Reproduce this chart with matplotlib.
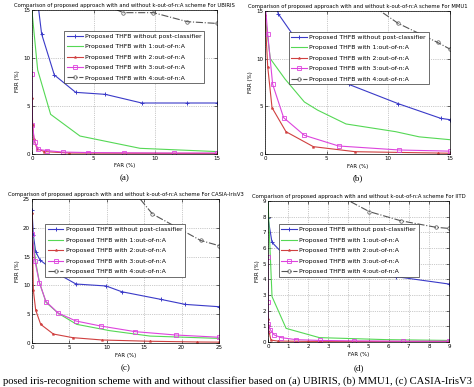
import numpy as np
import matplotlib.pyplot as plt

# legend labels shared by all four panels
labels = ["Proposed THFB without post-classifier",
          "Proposed THFB with 1:out-of-n:A",
          "Proposed THFB with 2:out-of-n:A",
          "Proposed THFB with 3:out-of-n:A",
          "Proposed THFB with 4:out-of-n:A"]

# (a) UBIRIS
a_blue_x = [0.35, 0.78, 1.81, 3.54, 5.95, 8.9, 12.6, 15]
a_blue_y = [17.0, 12.45, 8.18, 6.37, 6.16, 5.26, 5.26, 5.26]
a_green_x = [0.0, 0.46, 1.51, 3.89, 8.76, 15]
a_green_y = [14.8, 8.7, 4.08, 1.82, 0.54, 0.2]
a_red_x = [0.0, 0.05, 0.15, 0.4, 1.0, 3.0, 15]
a_red_y = [5.8, 3.0, 1.5, 0.5, 0.2, 0.05, 0.0]
a_mag_x = [0.0, 0.03, 0.22, 0.51, 1.2, 2.49, 4.5, 7.46, 11.5, 15]
a_mag_y = [8.28, 2.97, 1.23, 0.43, 0.3, 0.15, 0.1, 0.07, 0.05, 0.05]
a_blk_x = [5.0, 7.4, 9.84, 12.6, 15]
a_blk_y = [16.0, 14.67, 14.67, 13.73, 13.55]

# (b) MMU1
b_blue_x = [0.8, 1.08, 3.5, 6.78, 10.8, 14.25, 15]
b_blue_y = [16.0, 14.7, 10.2, 7.31, 5.28, 3.74, 3.6]
b_green_x = [0.0, 0.43, 1.62, 3.19, 4.27, 6.57, 10.6, 12.5, 15]
b_green_y = [14.6, 10.0, 7.87, 5.46, 4.6, 3.15, 2.34, 1.8, 1.5]
b_red_x = [0.0, 0.22, 0.57, 1.7, 3.92, 7.32, 14.0, 15]
b_red_y = [14.6, 9.16, 4.86, 2.34, 0.77, 0.24, 0.1, 0.08]
b_mag_x = [0.0, 0.22, 0.62, 1.51, 3.19, 5.97, 10.9, 15]
b_mag_y = [16.0, 12.6, 7.31, 3.81, 1.96, 0.84, 0.42, 0.3]
b_blk_x = [8.0, 10.8, 14.0, 15]
b_blk_y = [16.2, 13.7, 11.7, 11.0]

# (c) CASIA-IrisV3
c_blue_x = [0.0, 0.18, 0.49, 1.07, 3.74, 5.88, 9.9, 12.0, 17.2, 20.5, 25]
c_blue_y = [23.1, 18.75, 15.85, 14.4, 11.8, 10.24, 9.9, 8.9, 7.58, 6.7, 6.3]
c_green_x = [0.0, 0.49, 0.98, 1.87, 3.52, 5.97, 10.4, 15.8, 25]
c_green_y = [19.5, 14.1, 10.6, 7.06, 5.15, 3.24, 2.14, 1.2, 0.8]
c_red_x = [0.0, 0.18, 0.49, 1.16, 2.85, 5.44, 9.4, 15.8, 22.0, 25]
c_red_y = [22.5, 9.2, 5.73, 3.24, 1.56, 0.93, 0.52, 0.3, 0.18, 0.15]
c_mag_x = [0.0, 0.4, 1.0, 1.87, 3.5, 5.88, 9.18, 13.8, 19.2, 25]
c_mag_y = [19.0, 14.2, 10.4, 7.2, 5.2, 3.82, 2.95, 1.97, 1.39, 1.0]
c_blk_x = [13.5, 16.1, 22.55, 25]
c_blk_y = [26.5, 22.4, 17.8, 16.9]

# (d) IITD
d_blue_x = [0.0, 0.0, 0.2, 0.65, 1.5, 3.2, 6.37, 9]
d_blue_y = [9.5, 7.9, 6.36, 5.76, 5.3, 4.64, 4.17, 3.7]
d_green_x = [0.0, 0.2, 0.9, 2.55, 5.9, 9]
d_green_y = [9.0, 2.9, 0.87, 0.28, 0.15, 0.1]
d_red_x = [0.0, 0.0, 0.05, 0.15, 0.5, 2.0, 9]
d_red_y = [1.5, 1.08, 0.66, 0.12, 0.06, 0.04, 0.03]
d_mag_x = [0.0, 0.0, 0.02, 0.12, 0.31, 0.65, 1.39, 2.6, 4.3, 6.7, 9]
d_mag_y = [5.45, 2.57, 1.15, 0.77, 0.45, 0.28, 0.15, 0.1, 0.07, 0.05, 0.05]
d_blk_x = [3.6, 5.04, 6.6, 8.36, 9]
d_blk_y = [9.3, 8.32, 7.74, 7.32, 7.25]

titles = ["Comparison of proposed approach with and without k-out-of-n:A scheme For UBIRIS",
          "Comparison of proposed approach with and without k-out-of-n:A scheme For MMU1",
          "Comparison of proposed approach with and without k-out-of-n:A scheme For CASIA-IrisV3",
          "Comparison of proposed approach with and without k-out-of-n:A scheme For IITD"]
captions = ["(a)", "(b)", "(c)", "(d)"]

W, H = 474, 387
fig = plt.figure(figsize=(4.74, 3.87), dpi=100)
fig.patch.set_facecolor("white")

# axes boxes in pixels: left, top, right, bottom
boxes = [(32, 9.5, 217, 153.5), (265, 11, 450, 154),
         (32, 199, 219, 343), (268, 201, 449, 342)]
limits = [15, 15, 25, 9]
ylimits = [15, 15, 25, 9]
xticks = [[0, 5, 10, 15], [0, 5, 10, 15], list(range(0, 26, 5)), list(range(10))]
yticks = [[0, 5, 10, 15], [0, 5, 10, 15], list(range(0, 26, 5)), list(range(10))]
leg_anchor = [(0.93, 0.853), (0.885, 0.855), (0.818, 0.824), (0.833, 0.835)]

panels = [
    [(a_blue_x, a_blue_y), (a_green_x, a_green_y), (a_red_x, a_red_y), (a_mag_x, a_mag_y), (a_blk_x, a_blk_y)],
    [(b_blue_x, b_blue_y), (b_green_x, b_green_y), (b_red_x, b_red_y), (b_mag_x, b_mag_y), (b_blk_x, b_blk_y)],
    [(c_blue_x, c_blue_y), (c_green_x, c_green_y), (c_red_x, c_red_y), (c_mag_x, c_mag_y), (c_blk_x, c_blk_y)],
    [(d_blue_x, d_blue_y), (d_green_x, d_green_y), (d_red_x, d_red_y), (d_mag_x, d_mag_y), (d_blk_x, d_blk_y)],
]

styles = [dict(color="#3a3ac8", ls="-", marker="+", ms=3.5, mew=0.7),
          dict(color="#55d855", ls="-", marker=None),
          dict(color="#d04040", ls="-", marker="*", ms=2.0, mew=0.4),
          dict(color="#dd44dd", ls="-", marker="s", ms=3.0, mfc="none", mew=0.6),
          dict(color="#555555", ls="-.", marker="o", ms=2.5, mfc="none", mew=0.5)]

for i in range(4):
    l, t, r, b = boxes[i]
    ax = fig.add_axes([l / W, 1 - b / H, (r - l) / W, (b - t) / H])
    for (xs, ys), st, lab in zip(panels[i], styles, labels):
        ax.plot(xs, ys, lw=0.8, label=lab, **st)
    ax.set_xlim(0, limits[i])
    ax.set_ylim(0, ylimits[i])
    ax.set_xticks(xticks[i])
    ax.set_yticks(yticks[i])
    ax.grid(True, ls=":", color="#999999", lw=0.5)
    ax.tick_params(labelsize=4, direction="in", length=2, width=0.4,
                   top=True, right=True, pad=1.5)
    for sp in ax.spines.values():
        sp.set_linewidth(0.5)
    ax.set_xlabel("FAR (%)", fontsize=4, labelpad=2)
    ax.set_ylabel("FRR (%)", fontsize=4, labelpad=2)
    ax.set_title(titles[i], fontsize=3.8, pad=2)
    leg = ax.legend(loc="upper right", bbox_to_anchor=leg_anchor[i], fontsize=4.4,
                    frameon=True, fancybox=False, framealpha=1, edgecolor="#333333",
                    labelspacing=0.85, handlelength=2.6, handletextpad=0.35,
                    borderpad=0.45, borderaxespad=0)
    leg.get_frame().set_linewidth(0.5)
    cx = (l + r) / 2 / W
    fig.text(cx, 1 - 178 / H if i < 2 else 1 - 368 / H, captions[i],
             fontsize=6.5, family="Liberation Serif", ha="center", va="center")

fig.text(0.5, 1 - 381 / H,
         "posed iris-recognition scheme with and without classifier based on (a) UBIRIS, (b) MMU1, (c) CASIA-IrisV3",
         fontsize=7.7, family="Liberation Serif", ha="center", va="center")

fig.savefig("out.png", dpi=100)
